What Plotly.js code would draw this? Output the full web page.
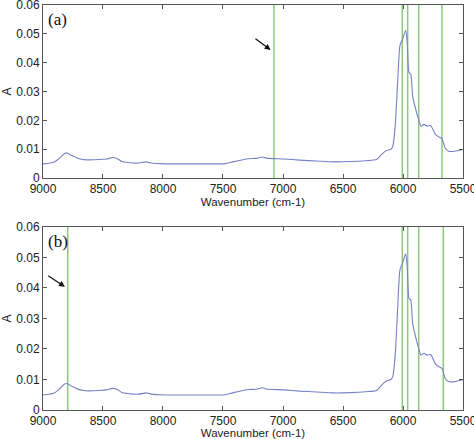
<!DOCTYPE html>
<html>
<head>
<meta charset="utf-8">
<script src="https://cdn.plot.ly/plotly-3.0.1.min.js"></script>
<style>html,body{margin:0;padding:0;background:#fff;}#chart{width:474px;height:439px;}</style>
</head>
<body>
<div id="chart"></div>
<script>
// Spectrum (same in both panels)
const wavenumber = [9000, 8910, 8870, 8820, 8800, 8760, 8690, 8640, 8530, 8470, 8420, 8380, 8340, 8250, 8200, 8140, 8100, 8020, 7680, 7480, 7420, 7290, 7220, 7170, 7140, 6990, 6860, 6720, 6580, 6440, 6310, 6220, 6180, 6140, 6100, 6085, 6065, 6045, 6025, 6005, 5978, 5965, 5950, 5935, 5920, 5895, 5870, 5850, 5825, 5800, 5770, 5730, 5700, 5675, 5650, 5620, 5570, 5500];
const absorbance = [0.0049, 0.0055, 0.0066, 0.0085, 0.0087, 0.0078, 0.0066, 0.0063, 0.0064, 0.0066, 0.0071, 0.0067, 0.0057, 0.0052, 0.0052, 0.0056, 0.0052, 0.0050, 0.0049, 0.0050, 0.0056, 0.0067, 0.0068, 0.0073, 0.0069, 0.0066, 0.0062, 0.0059, 0.0056, 0.0057, 0.0060, 0.0064, 0.0081, 0.0095, 0.0100, 0.0110, 0.0180, 0.0330, 0.0460, 0.0480, 0.0512, 0.0470, 0.0366, 0.0360, 0.0285, 0.0240, 0.0203, 0.0180, 0.0186, 0.0180, 0.0182, 0.0151, 0.0142, 0.0136, 0.0105, 0.0093, 0.0093, 0.0099];
// Marked wavenumbers (green lines)
const markersA = [7075, 6006, 5961, 5869, 5675];
const markersB = [8794, 6006, 5961, 5869, 5664];
// Arrow pointing at the first marker
const arrowA = {from: [7242, 0.0487], to: [7103, 0.0444]};
const arrowB = {from: [8969, 0.0443], to: [8817, 0.0404]};
const panelLabels = ['(a)', '(b)'];
const xTicks = [9000, 8500, 8000, 7500, 7000, 6500, 6000, 5500];
const yTicks = [0, 0.01, 0.02, 0.03, 0.04, 0.05, 0.06];

const traces = [];
function addPanel(markers, xa, ya) {
  markers.forEach(m => traces.push({
    x: [m, m], y: [0, 0.06], xaxis: xa, yaxis: ya, mode: 'lines',
    line: {color: '#8cc97a', width: 1.5}, hoverinfo: 'skip', showlegend: false
  }));
  traces.push({
    x: wavenumber, y: absorbance, xaxis: xa, yaxis: ya, mode: 'lines',
    line: {color: '#7682c6', width: 1.1, shape: 'spline', smoothing: 0.6}, showlegend: false
  });
}
addPanel(markersA, 'x', 'y');
addPanel(markersB, 'x2', 'y2');

const fontTick = {family: 'Liberation Sans, Arial, sans-serif', size: 12, color: '#222'};
function xaxis(anchor) {
  return {
    anchor: anchor, domain: [0.0907, 0.9768], range: [9000, 5500],
    tickvals: xTicks, ticks: 'inside', ticklen: 4, tickcolor: '#555',
    showline: true, linecolor: '#555', mirror: 'ticks', showgrid: false, zeroline: false,
    tickfont: fontTick, ticklabeloverflow: 'allow',
    title: {text: 'Wavenumber (cm-1)', font: {family: 'Liberation Sans, Arial, sans-serif', size: 11.5, color: '#222'}, standoff: 1}
  };
}
function yaxis(anchor, dom) {
  return {
    anchor: anchor, domain: dom, range: [0, 0.06],
    tickvals: yTicks, ticktext: yTicks.map(v => v === 0 ? '0' : v.toFixed(2)),
    ticks: 'inside', ticklen: 4, tickcolor: '#555',
    showline: true, linecolor: '#555', mirror: 'ticks', showgrid: false, zeroline: false,
    tickfont: fontTick, ticklabeloverflow: 'allow',
    title: {text: 'A', font: {family: 'Liberation Sans, Arial, sans-serif', size: 12, color: '#222'}, standoff: 8}
  };
}

function arrowAnn(arr, xr, yr) {
  return {
    x: arr.to[0], y: arr.to[1], ax: arr.from[0], ay: arr.from[1],
    xref: xr, yref: yr, axref: xr, ayref: yr, text: '', showarrow: true,
    arrowhead: 2, arrowsize: 1, arrowwidth: 1.2, arrowcolor: '#111'
  };
}
function labelAnn(text, xr, yr) {
  return {
    text: text, xref: xr + ' domain', yref: yr + ' domain', x: 0.008, y: 0.985,
    xanchor: 'left', yanchor: 'top', showarrow: false,
    font: {family: 'Liberation Serif, Times New Roman, serif', size: 17, color: '#111'}
  };
}

const layout = {
  width: 474, height: 439,
  margin: {l: 0, r: 0, t: 0, b: 0},
  paper_bgcolor: '#fff', plot_bgcolor: '#fff',
  xaxis: xaxis('y'), yaxis: yaxis('x', [0.5945, 0.9886]),
  xaxis2: xaxis('y2'), yaxis2: yaxis('x2', [0.0661, 0.4829]),
  annotations: [
    arrowAnn(arrowA, 'x', 'y'), arrowAnn(arrowB, 'x2', 'y2'),
    labelAnn(panelLabels[0], 'x', 'y'), labelAnn(panelLabels[1], 'x2', 'y2')
  ],
  showlegend: false
};
Plotly.newPlot('chart', traces, layout, {displayModeBar: false, staticPlot: true});
</script>
</body>
</html>
